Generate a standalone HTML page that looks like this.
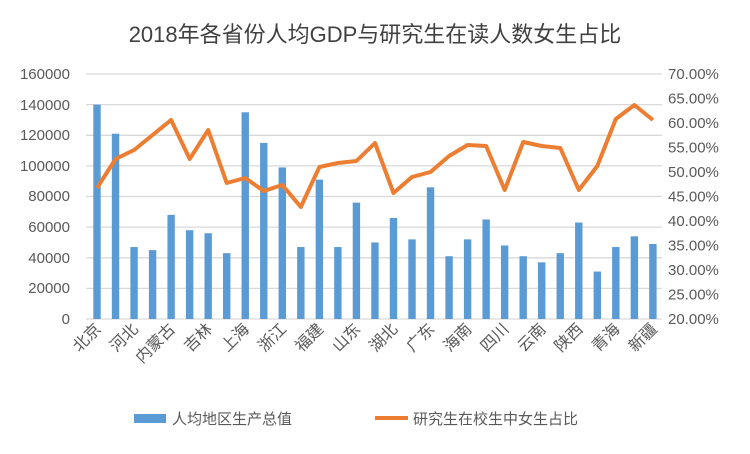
<!DOCTYPE html>
<html><head><meta charset="utf-8"><style>
body{margin:0;background:#fff}
svg text{font-family:"Liberation Sans","Noto Sans CJK SC",sans-serif;fill:#595959}
</style></head><body>
<svg width="750" height="449" viewBox="0 0 750 449" xmlns="http://www.w3.org/2000/svg">
<rect width="750" height="449" fill="#fff"/>
<text x="375" y="42" text-anchor="middle" font-size="22" style="fill:#404040">2018年各省份人均GDP与研究生在读人数女生占比</text>
<g stroke="#d9d9d9" stroke-width="1.3">
<line x1="86" x2="662" y1="74" y2="74"/><line x1="86" x2="662" y1="104.6" y2="104.6"/>
<line x1="86" x2="662" y1="135.3" y2="135.3"/><line x1="86" x2="662" y1="165.9" y2="165.9"/>
<line x1="86" x2="662" y1="196.5" y2="196.5"/><line x1="86" x2="662" y1="227.1" y2="227.1"/>
<line x1="86" x2="662" y1="257.8" y2="257.8"/><line x1="86" x2="662" y1="288.4" y2="288.4"/>
<line x1="86" x2="662" y1="319" y2="319"/>
</g>
<g font-size="15" text-anchor="end">
<text x="70" y="79">160000</text><text x="70" y="110">140000</text><text x="70" y="140">120000</text>
<text x="70" y="171">100000</text><text x="70" y="201">80000</text><text x="70" y="232">60000</text>
<text x="70" y="263">40000</text><text x="70" y="293">20000</text><text x="70" y="324">0</text>
</g>
<g font-size="15">
<text x="668" y="79">70.00%</text><text x="668" y="103.5">65.00%</text><text x="668" y="128">60.00%</text>
<text x="668" y="152.5">55.00%</text><text x="668" y="177">50.00%</text><text x="668" y="201.5">45.00%</text>
<text x="668" y="226">40.00%</text><text x="668" y="250.5">35.00%</text><text x="668" y="275">30.00%</text>
<text x="668" y="299.5">25.00%</text><text x="668" y="324">20.00%</text>
</g>
<g fill="#5b9bd5" id="bars"></g>
<polyline id="ln" fill="none" stroke="#ed7d31" stroke-width="4" stroke-linejoin="round" points=""/>
<g id="lbl" font-size="16"></g>
<rect x="134" y="414" width="32" height="9" fill="#5b9bd5"/>
<text x="172" y="424" font-size="15">人均地区生产总值</text>
<line x1="375" x2="408" y1="418" y2="418" stroke="#ed7d31" stroke-width="4"/>
<text x="413" y="424" font-size="15">研究生在校生中女生占比</text>
</svg>
<script>
var v=[140000,121000,47000,45000,68000,58000,56000,43000,135000,115000,99000,47000,91000,47000,76000,50000,66000,52000,86000,41000,52000,65000,48000,41000,37000,43000,63000,31000,47000,54000,49000];
var ly=[188,159,150,135,120,159,130,183,178,191,185,207,167,163,161,143,193,177,172,156,145,146,190,142,146,148,190,166,119,105,120];
var names=["北京","河北","内蒙古","吉林","上海","浙江","福建","山东","湖北","广东","海南","四川","云南","陕西","青海","新疆"];
var ns="http://www.w3.org/2000/svg",b=document.getElementById("bars"),pts=[];
for(var i=0;i<31;i++){var x=97+18.53*i,h=v[i]/160000*245;
var r=document.createElementNS(ns,"rect");r.setAttribute("x",x-3.7);r.setAttribute("y",319-h);r.setAttribute("width",7.4);r.setAttribute("height",h);b.appendChild(r);
pts.push(x.toFixed(1)+","+ly[i]);}
document.getElementById("ln").setAttribute("points",pts.join(" "));
var g=document.getElementById("lbl");
for(var j=0;j<16;j++){var x=97+18.53*2*j+5;var t=document.createElementNS(ns,"text");
t.setAttribute("transform","translate("+x+",330) rotate(-45)");t.setAttribute("text-anchor","end");t.textContent=names[j];g.appendChild(t);}
</script>
</body></html>
